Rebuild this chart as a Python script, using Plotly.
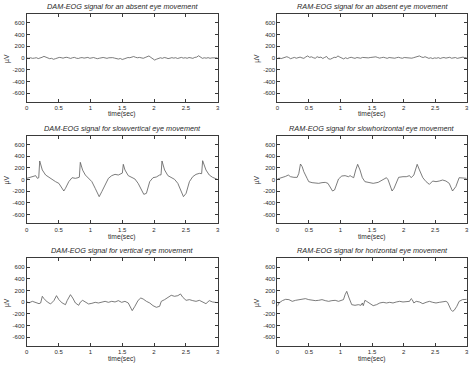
import plotly.graph_objects as go

# ---------------- data ----------------
t_absent = [round(0.03 * i, 2) for i in range(101)]
dam_absent = [0, -5, 4, -6, -2, 5, -10, -3, 12, 28,
              15, -4, -12, -6, -22, -12, 4, 10, 6, -3,
              8, 12, 2, -7, 5, 10, -4, -8, 3, 7,
              -2, 6, 10, -5, 2, 8, -3, -12, -4, 5,
              9, 2, -6, 4, 10, 6, -2, -10, -18, -8,
              -25, -15, -2, 8, 5, 14, 25, 12, 4, 10,
              2, -5, 8, 20, 35, 10, -15, -35, -20, -5,
              4, -6, 8, 2, -10, -4, 6, -2, 5, -8,
              3, 10, -2, 5, -5, 8, 2, -6, 10, 15,
              38, 12, -6, 4, -3, 6, -5, 2, -4, 3, 0]
ram_absent = [-8, 2, -10, 5, 12, 22, 8, -12, 0, 10,
              -4, 8, 15, 2, -6, 18, 35, 12, 20, 5,
              -5, 22, 8, 15, -8, 10, 26, -15, -20, -5,
              12, 8, 35, 15, -5, -15, 4, -10, 5, 12,
              2, -6, 8, 3, -4, 10, 6, -5, 2, 8,
              12, 5, 20, 8, -2, 6, 12, 4, -6, 8,
              3, 10, -4, 6, 12, 2, -5, 8, 4, 10,
              2, -3, 6, 15, 25, 35, 18, 8, 22, 5,
              -6, 4, -10, 2, -4, 6, -8, 3, 8, -2,
              5, 12, -4, 2, 8, -6, 4, 10, 15, 5, 8]

t_dam_slow = [0, 0.036, 0.088, 0.14, 0.166, 0.188, 0.203, 0.244, 0.296, 0.348,
              0.40, 0.452, 0.504, 0.556, 0.582, 0.608, 0.66, 0.712, 0.764, 0.805,
              0.826, 0.841, 0.878, 0.92, 0.971, 1.023, 1.075, 1.138, 1.179, 1.231,
              1.283, 1.335, 1.387, 1.439, 1.491, 1.502, 1.517, 1.543, 1.595, 1.647,
              1.699, 1.75, 1.802, 1.839, 1.88, 1.932, 1.984, 2.036, 2.088, 2.11,
              2.125, 2.166, 2.218, 2.27, 2.322, 2.374, 2.426, 2.462, 2.504, 2.556,
              2.608, 2.66, 2.712, 2.748, 2.764, 2.816, 2.868, 2.92, 2.982, 3.0]
v_dam_slow = [20, 35, 48, 66, 20, 30, 317, 163, 77, 37,
              -9, -37, -66, -151, -197, -151, -37, 31, 20, 31,
              40, 294, 160, 77, 20, -37, -151, -294, -208, -94,
              20, 66, 88, 77, 105, 110, 260, 163, 66, 37,
              9, -66, -180, -254, -237, -37, 31, 43, 77, 80,
              317, 163, 66, 31, 3, -66, -208, -294, -237, -37,
              48, 88, 105, 100, 322, 163, 77, 37, 9, 0]

t_ram_slow = [0, 0.079, 0.131, 0.173, 0.209, 0.262, 0.314, 0.34, 0.366, 0.393,
              0.419, 0.471, 0.497, 0.55, 0.602, 0.654, 0.707, 0.759, 0.801, 0.838,
              0.874, 0.906, 0.942, 0.969, 1.021, 1.073, 1.126, 1.152, 1.178, 1.209,
              1.241, 1.272, 1.309, 1.346, 1.387, 1.44, 1.518, 1.597, 1.675, 1.728,
              1.754, 1.78, 1.817, 1.848, 1.885, 1.921, 1.99, 2.042, 2.094, 2.12,
              2.162, 2.215, 2.251, 2.304, 2.356, 2.408, 2.461, 2.513, 2.565, 2.618,
              2.67, 2.723, 2.775, 2.827, 2.88, 2.932, 3.0]
v_ram_slow = [8, 31, 54, 77, 48, 37, 37, 105, 265, 220,
              134, 20, -37, -54, -66, -66, -54, -49, -66, -140,
              -197, -180, -66, 9, 60, 66, 48, 66, 48, 31,
              163, 260, 163, 31, -37, -54, -66, -49, -9, 31,
              -5, -83, -197, -151, -37, 37, 48, 48, 66, 31,
              77, 260, 163, 31, -37, -83, -26, -37, -26, -9,
              -26, -66, -197, -123, 31, 31, 20]

t_dam_vert = [0, 0.036, 0.088, 0.14, 0.192, 0.218, 0.244, 0.27, 0.322, 0.374,
              0.426, 0.467, 0.504, 0.556, 0.608, 0.634, 0.686, 0.722, 0.764, 0.816,
              0.842, 0.878, 0.92, 0.971, 1.023, 1.075, 1.127, 1.179, 1.231, 1.283,
              1.335, 1.387, 1.439, 1.491, 1.543, 1.595, 1.636, 1.657, 1.699, 1.75,
              1.792, 1.829, 1.88, 1.932, 1.984, 2.036, 2.088, 2.114, 2.166, 2.218,
              2.27, 2.322, 2.374, 2.416, 2.452, 2.504, 2.556, 2.608, 2.66, 2.712,
              2.764, 2.816, 2.868, 2.92, 3.0]
v_dam_vert = [3, -11, 14, -3, -26, -14, 100, 60, 3, -31,
              26, 111, 43, -14, -43, 26, 128, 71, -14, -54,
              0, 31, 0, -31, -20, -3, -14, 3, 14, -3,
              14, 3, 26, -3, 14, -14, -100, -145, -71, 31,
              71, 54, 14, -14, -60, -88, -71, 14, 43, 83,
              117, 100, 111, 140, 83, 31, 43, 26, 14, 31,
              3, -26, 26, 3, -9]

t_ram_horiz = [0, 0.026, 0.079, 0.131, 0.183, 0.236, 0.288, 0.34, 0.393, 0.445,
               0.497, 0.55, 0.602, 0.654, 0.707, 0.759, 0.812, 0.864, 0.916, 0.969,
               1.021, 1.047, 1.073, 1.099, 1.136, 1.178, 1.23, 1.283, 1.325, 1.346,
               1.361, 1.387, 1.414, 1.466, 1.518, 1.571, 1.623, 1.675, 1.728, 1.78,
               1.832, 1.885, 1.937, 1.99, 2.042, 2.094, 2.12, 2.136, 2.162, 2.199,
               2.251, 2.304, 2.356, 2.408, 2.461, 2.513, 2.565, 2.618, 2.67, 2.696,
               2.723, 2.749, 2.775, 2.801, 2.843, 2.88, 2.932, 3.0]
v_ram_horiz = [-71, -14, 26, 48, 43, 14, 31, 43, 48, 60,
               43, 31, 26, 31, 43, 26, 14, 26, 31, 14,
               26, 43, 128, 185, 71, -43, -54, -43, -54, -14,
               -60, 31, 14, -31, -60, -43, -14, -3, -14, -3,
               -14, 3, 14, 3, 14, 14, 60, 43, -14, 14,
               3, -26, -3, 14, -3, -14, -3, 3, 14, -3,
               -71, -128, -157, -140, -71, 14, 43, 48]

titles = ["DAM-EOG signal for an absent eye movement",
          "RAM-EOG signal for an absent eye movement",
          "DAM-EOG signal for slowvertical eye movement",
          "RAM-EOG signal for slowhorizontal eye movement",
          "DAM-EOG signal for vertical eye movement",
          "RAM-EOG signal for horizontal eye movement"]
x_ticks = [0, 0.5, 1, 1.5, 2, 2.5, 3]
x_ticktext = ["0", "0.5", "1", "1.5", "2", "2.5", "3"]
y_ticks = [-600, -400, -200, 0, 200, 400, 600]
y_ticktext = ["-600", "-400", "-200", "0", "200", "400", "600"]
x_label = "time(sec)"
y_label = "µV"

series = [(t_absent, dam_absent), (t_absent, ram_absent),
          (t_dam_slow, v_dam_slow), (t_ram_slow, v_ram_slow),
          (t_dam_vert, v_dam_vert), (t_ram_horiz, v_ram_horiz)]

# ---------------- layout ----------------
W, H = 474, 365
col_dom = [(25 / W, 217.5 / W), (277.7 / W, 468.7 / W)]
row_px = [(14, 102), (135.7, 223.3), (258.3, 346)]
row_dom = [(1 - b / H, 1 - t / H) for t, b in row_px]
title_y = [6, 128, 250.7]
xlab_y = [114, 237, 359]
ylab_x = [5, 257]

FONT = "Liberation Sans, Arial, sans-serif"
AX = "#3a3a3a"
TXT = "#2a2a2a"

fig = go.Figure()
layout = dict(width=W, height=H, autosize=False,
              margin=dict(l=0, r=0, t=0, b=0),
              paper_bgcolor="white", plot_bgcolor="white",
              showlegend=False, font=dict(family=FONT, size=6, color=TXT))
annotations = []
for k, (tx, vy) in enumerate(series):
    r, c = divmod(k, 2)
    n = "" if k == 0 else str(k + 1)
    fig.add_trace(go.Scatter(x=tx, y=vy, mode="lines",
                             line=dict(color="#5a5a5a", width=0.8),
                             xaxis="x" + n, yaxis="y" + n, hoverinfo="skip"))
    common = dict(showgrid=False, zeroline=False, showline=True, linecolor=AX,
                  linewidth=1, mirror="ticks", ticks="inside", ticklen=3,
                  tickcolor=AX, tickwidth=1,
                  tickfont=dict(family=FONT, size=6, color=TXT))
    layout["xaxis" + n] = dict(domain=list(col_dom[c]), range=[0, 3],
                               tickvals=x_ticks, ticktext=x_ticktext,
                               anchor="y" + n, **common)
    layout["yaxis" + n] = dict(domain=list(row_dom[r]), range=[-750, 750],
                               tickvals=y_ticks, ticktext=y_ticktext,
                               anchor="x" + n, **common)
    cx = (col_dom[c][0] + col_dom[c][1]) / 2
    annotations.append(dict(text="<i>" + titles[k] + "</i>", x=cx, y=1 - title_y[r] / H,
                            xref="paper", yref="paper", showarrow=False,
                            xanchor="center", yanchor="middle",
                            font=dict(family=FONT, size=7.3, color=TXT)))
    annotations.append(dict(text=x_label, x=cx, y=1 - xlab_y[r] / H,
                            xref="paper", yref="paper", showarrow=False,
                            xanchor="center", yanchor="middle",
                            font=dict(family=FONT, size=6.7, color=TXT)))
    annotations.append(dict(text=y_label, x=ylab_x[c] / W,
                            y=(row_dom[r][0] + row_dom[r][1]) / 2,
                            xref="paper", yref="paper", showarrow=False,
                            xanchor="center", yanchor="middle", textangle=-90,
                            font=dict(family=FONT, size=6.7, color=TXT)))
layout["annotations"] = annotations
fig.update_layout(**layout)
fig.write_html("out.html", config={"displayModeBar": False},
               post_script="document.body.style.margin='0';document.body.style.overflow='hidden';")
